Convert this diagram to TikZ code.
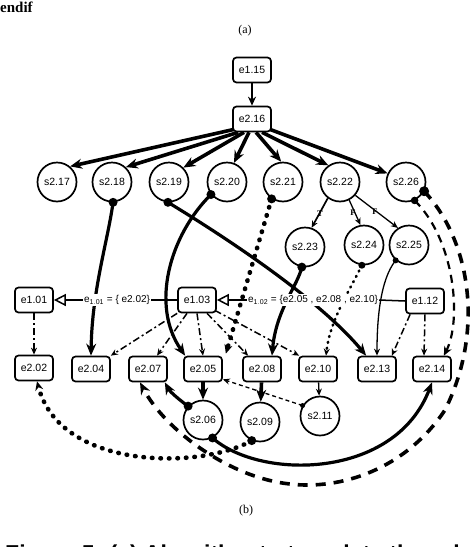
\documentclass[tikz,border=0pt]{standalone}
\usepackage{fontspec}
\setmainfont{Liberation Serif}
\setsansfont{Liberation Sans}
\usetikzlibrary{arrows.meta,calc}
\pgfdeclarelayer{bg}
\pgfsetlayers{bg,main}
\begin{document}
\begin{tikzpicture}[x=1pt,y=-1pt]
\tikzset{
  ebox/.style={draw, line width=1.7pt, rounded corners=3.5pt, minimum width=38pt, minimum height=25pt, inner sep=1pt, fill=white, font=\sffamily\fontsize{10.5}{12}\selectfont},
  scirc/.style={circle, draw, line width=1.7pt, minimum size=39pt, inner sep=0pt, fill=white, font=\sffamily\fontsize{10.5}{12}\selectfont},
  setlab/.style={fill=white, inner sep=1pt, font=\sffamily\fontsize{10}{11}\selectfont},
  tflab/.style={inner sep=0pt, font=\bfseries\fontsize{8.5}{9}\selectfont},
  bigtip/.style={-{Stealth[length=12pt,width=10pt]}},
  midtip/.style={-{Stealth[length=9pt,width=8pt]}},
  smalltip/.style={-{Stealth[length=7pt,width=6pt]}},
  thk/.style={line width=3.6pt, bigtip},
  thkb/.style={line width=3.2pt, bigtip},
  thn/.style={line width=1.3pt, smalltip},
  dashdot/.style={line width=1.5pt, smalltip, dash pattern=on 7pt off 3pt on 2pt off 3pt},
  bigdots/.style={line width=4.6pt, line cap=round, dash pattern=on 0.5pt off 8pt, midtip},
  middots/.style={line width=2.6pt, line cap=round, dash pattern=on 1pt off 5pt, smalltip},
  bigdash/.style={line width=3.6pt, dash pattern=on 10pt off 8pt, bigtip},
  middash/.style={line width=2.2pt, dash pattern=on 8pt off 6pt, midtip},
  thindash/.style={line width=1.3pt, dash pattern=on 4pt off 3pt, smalltip},
  opentri/.style={line width=1.5pt, -{Triangle[open, length=12pt, width=12pt, line width=1.5pt]}},
  dotmark/.style={fill=black}
}
\useasboundingbox (0,0) rectangle (474,547);

% texts
\node[anchor=base west, inner sep=0pt, font=\bfseries\fontsize{15}{17}\selectfont] (endif) at (0,12) {endif};
\node[inner sep=0pt, font=\fontsize{12}{14}\selectfont] (capa) at (245,31) {(a)};
\node[inner sep=0pt, font=\fontsize{12}{14}\selectfont] (capb) at (246,511) {(b)};
\node[anchor=base west, inner sep=0pt, font=\sffamily\bfseries\fontsize{23}{26}\selectfont] (cap) at (5,561) {Figure 5. (a) Algorithm to translate the rules in};

% nodes
\node[ebox] (e115) at (252,70) {e1.15};
\node[ebox] (e216) at (252,119) {e2.16};
\node[scirc] (s217) at (57,182) {s2.17};
\node[scirc] (s218) at (112,182) {s2.18};
\node[scirc] (s219) at (169,182) {s2.19};
\node[scirc] (s220) at (227,182) {s2.20};
\node[scirc] (s221) at (283,182) {s2.21};
\node[scirc] (s222) at (340,182) {s2.22};
\node[scirc] (s226) at (406,182) {s2.26};
\node[scirc] (s223) at (305,247) {s2.23};
\node[scirc] (s224) at (364,245) {s2.24};
\node[scirc] (s225) at (409,245) {s2.25};
\node[ebox] (e101) at (34,300) {e1.01};
\node[ebox] (e103) at (197,300) {e1.03};
\node[ebox] (e112) at (425,301) {e1.12};
\node[ebox] (e202) at (34,368) {e2.02};
\node[ebox] (e204) at (91,369) {e2.04};
\node[ebox] (e207) at (148,369) {e2.07};
\node[ebox] (e205) at (203,369) {e2.05};
\node[ebox] (e208) at (262,369) {e2.08};
\node[ebox] (e210) at (318,369) {e2.10};
\node[ebox] (e213) at (377,369) {e2.13};
\node[ebox] (e214) at (432,369) {e2.14};
\node[scirc] (s206) at (203,420) {s2.06};
\node[scirc] (s209) at (260,422) {s2.09};
\node[scirc] (s211) at (320,416) {s2.11};
\node[setlab] (lab1) at (117,300) {e$_{\mathsf{1.01}}$ = \{ e2.02\}};
\node[setlab] (lab2) at (313,300) {e$_{\mathsf{1.02}}$ = \{e2.05 , e2.08 , e2.10\}};
\node[tflab] (lt) at (320,214) {T};
\node[tflab] (lf1) at (353,213) {F};
\node[tflab] (lf2) at (375,212) {F};

\begin{pgfonlayer}{bg}
% top
\draw[line width=1.6pt, midtip] (e115) -- (e216);
\draw[thk] ($(e216.south west)+(2,-3)$) -- (s217.50);
\draw[thk] ($(e216.south west)+(6,0)$) -- (s218.47);
\draw[thk] ($(e216.south)+(-8,0)$) -- (s219.45);
\draw[thk] ($(e216.south)+(-3,0)$) -- (s220.70);
\draw[thk] ($(e216.south)+(4,0)$) -- (s221.95);
\draw[thk] ($(e216.south)+(10,0)$) -- (s222.125);
\draw[thk] ($(e216.south east)+(-2,-3)$) -- (s226.155);
% s2.22 branches
\draw[line width=1.7pt, smalltip] (s222.-127) -- (s223.71);
\draw[line width=1.3pt, smalltip] (s222.-63) -- (s224.100);
\draw[line width=1.3pt, smalltip] (s222.-41) -- (s225.123);
% long curves from the upper circles
\draw[thkb] (s218.-87) .. controls (108,240) and (92,290) .. (e204.north);
\draw[thkb] (s219.-93) .. controls (230,240) and (320,300) .. ($(e213.north west)+(9,0)$);
\draw[thkb] (s220.-142) .. controls (170,235) and (150,305) .. ($(e205.north west)+(2,0)$);
\draw[bigdots] (s221.-124) -- ($(e205.north east)+(3,-2)$);
\draw[thkb] (s223.-99) .. controls (298,285) and (276,310) .. ($(e208.north)+(10,0)$);
\draw[middots] (s224.-96) .. controls (350,290) and (330,320) .. ($(e210.north)+(8,0)$);
\draw[line width=1.3pt, smalltip] (s225.-131) .. controls (380,280) and (377,320) .. (e213.north);
\draw[middash] (s226.-65) .. controls (455,240) and (462,320) .. ($(e214.north east)+(-8,0)$);
\draw[bigdash] (s226.-27) .. controls (470,240) and (485,330) .. (445,410)
   .. controls (405,470) and (340,490) .. (290,484)
   .. controls (230,478) and (165,430) .. ($(e207.south)+(-8,0)$);
% e1.x edges
\draw[dashdot] (e101) -- (e202);
\draw[dashdot] (e103.south west) -- (e204.north east);
\draw[dashdot] ($(e103.south)+(-10,0)$) -- ($(e207.north)+(9,0)$);
\draw[dashdot] (e103.south) -- (e205.north);
\draw[dashdot] ($(e103.south)+(10,0)$) -- ($(e208.north west)+(6,0)$);
\draw[dashdot] ($(e103.south east)+(-2,-3)$) -- ($(e210.north west)+(1,0)$);
\draw[dashdot] ($(e112.south west)+(5,0)$) -- ($(e213.north east)+(-5,0)$);
\draw[dashdot] (e112.south) -- ($(e214.north)+(-8,0)$);
% set labels
\draw[opentri] (lab1.west) -- (e101.east);
\draw[line width=1.5pt] (e103.west) -- (lab1.east);
\draw[opentri] (lab2.west) -- (e103.east);
\draw[line width=1.5pt] (e112.west) -- (lab2.east);
% lower part
\draw[thk] (e205) -- (s206);
\draw[thk] (e208) -- (s209);
\draw[thn] (e210) -- (s211);
\draw[thkb] (s206.137) .. controls (182,402) and (170,392) .. ($(e207.south east)+(-3,0)$);
\draw[thkb] (s206.-62) .. controls (260,480) and (395,480) .. (e214.south);
\draw[bigdots] (s209.-114) .. controls (200,470) and (60,470) .. ($(e202.south)+(3,0)$);
\draw[thindash] (s211.149) -- ($(e205.south east)+(0,-3)$);
\end{pgfonlayer}

% dots at sources
\fill[dotmark] (s218.-87) circle[radius=4.5pt];
\fill[dotmark] (s219.-93) circle[radius=4.5pt];
\fill[dotmark] (s220.-142) circle[radius=4.5pt];
\fill[dotmark] (s221.-124) circle[radius=4.5pt];
\fill[dotmark] (s223.-99) circle[radius=4.5pt];
\fill[dotmark] (s224.-96) circle[radius=3.5pt];
\fill[dotmark] (s225.-131) circle[radius=3pt];
\fill[dotmark] (s226.-27) circle[radius=5pt];
\fill[dotmark] (s226.-65) circle[radius=3.8pt];
\fill[dotmark] (s206.137) circle[radius=4.5pt];
\fill[dotmark] (s206.-62) circle[radius=4.5pt];
\fill[dotmark] (s209.-114) circle[radius=4.5pt];
\fill[dotmark] (s211.149) circle[radius=2.5pt];
\end{tikzpicture}
\end{document}
